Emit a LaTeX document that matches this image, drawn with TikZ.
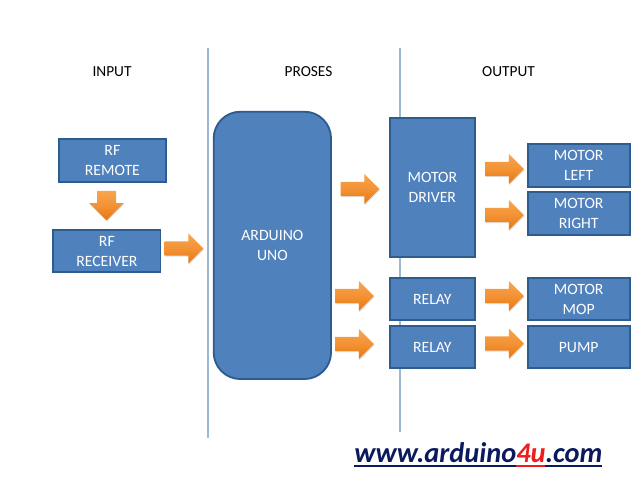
\documentclass[tikz,border=0pt]{standalone}
\usepackage{fontspec}
\setmainfont{Carlito}
\usetikzlibrary{shapes.arrows,shadows}
\definecolor{boxfill}{HTML}{4F81BD}
\definecolor{boxedge}{HTML}{2F5C8F}
\definecolor{sepline}{HTML}{9DB8D3}
\definecolor{navyink}{HTML}{0B1A5E}
\definecolor{redink}{HTML}{EE1C1C}
\definecolor{arrowtop}{HTML}{F9A54E}
\definecolor{arrowbot}{HTML}{E8760F}
\tikzset{
  blockbox/.style={draw=boxedge,line width=1.4pt,fill=boxfill,text=white,font=\fontsize{11.8}{15}\selectfont,align=center,inner sep=0pt,outer sep=0pt,anchor=north west},
  title/.style={font=\fontsize{11.5}{13}\selectfont,text=black,inner sep=0pt},
  sep/.style={draw=sepline,line width=1.1pt},
  blockarrow/.style={single arrow,draw=none,top color=arrowtop,bottom color=arrowbot,middle color=arrowtop!60!arrowbot,inner sep=0pt,inner ysep=4.9pt,outer sep=0pt,
    minimum height=29pt,minimum width=22.5pt,single arrow head extend=5.6pt,single arrow tip angle=90,
    drop shadow={shadow xshift=0.4pt,shadow yshift=-0.8pt,opacity=0.25}},
  darrow/.style={blockarrow,shape border rotate=270,inner sep=6.75pt,minimum height=22pt,minimum width=25.5pt,single arrow head extend=6pt},
}
\begin{document}
\begin{tikzpicture}[x=0.75pt,y=-0.75pt]
\useasboundingbox (0,0) rectangle (640,480);
\fill[white] (0,0) rectangle (640,480);
% separators
\coordinate (s1t) at (208,48); \coordinate (s1b) at (208,438);
\coordinate (s2t) at (400,48); \coordinate (s2b) at (400,432);
\draw[sep] (s1t) -- (s1b);
\draw[sep] (s2t) -- (s2b);
% titles
\node[title] (tin) at (112,72) {INPUT};
\node[title] (tpr) at (308.5,72) {PROSES};
\node[title] (tou) at (508.5,72) {OUTPUT};
% input
\node[blockbox,minimum width=80.5pt,minimum height=32.5pt] (remote) at (58.7,138.7) {RF\\REMOTE};
\node[blockbox,minimum width=80.5pt,minimum height=32pt] (receiver) at (53.2,229.7) {RF\\RECEIVER};
\node[darrow] (a1) at (106.5,201) {};
\node[blockarrow] (a2) at (180.5,248.5) {};
% process
\node[blockbox,rounded corners=20pt,minimum width=88pt,minimum height=200.5pt] (uno) at (213.7,111.7) {ARDUINO\\UNO};
\node[blockarrow] (a3) at (356.5,189) {};
\node[blockarrow] (a4) at (351,296) {};
\node[blockarrow] (a5) at (351,344) {};
% output
\node[blockbox,minimum width=64pt,minimum height=104.5pt] (driver) at (389.7,117.7) {MOTOR\\DRIVER};
\node[blockbox,minimum width=64pt,minimum height=32pt] (relay1) at (389.7,277.7) {RELAY};
\node[blockbox,minimum width=64pt,minimum height=32pt] (relay2) at (389.7,325.7) {RELAY};
\node[blockarrow] (a6) at (501,169) {};
\node[blockarrow] (a7) at (501,215) {};
\node[blockarrow] (a8) at (501,296) {};
\node[blockarrow] (a9) at (501,343.5) {};
\node[blockbox,minimum width=76.5pt,minimum height=32.5pt] (left) at (527.7,143.7) {MOTOR\\LEFT};
\node[blockbox,minimum width=76.5pt,minimum height=32.5pt] (right) at (527.7,191.7) {MOTOR\\RIGHT};
\node[blockbox,minimum width=76.5pt,minimum height=32pt] (mop) at (527.7,277.7) {MOTOR\\MOP};
\node[blockbox,minimum width=76.5pt,minimum height=32pt] (pump) at (527.7,325.7) {PUMP};
% logo
\node[inner sep=0pt,anchor=base west,font=\fontsize{21.3}{24}\selectfont\bfseries\itshape,text=navyink] (logo) at (354,462) {www.arduino\textcolor{redink}{4u}.com};
\draw[navyink,line width=1.5pt] (354,466) -- (602,466);
\draw[redink,line width=1.5pt] (516,466) -- (545,466);
\end{tikzpicture}
\end{document}
